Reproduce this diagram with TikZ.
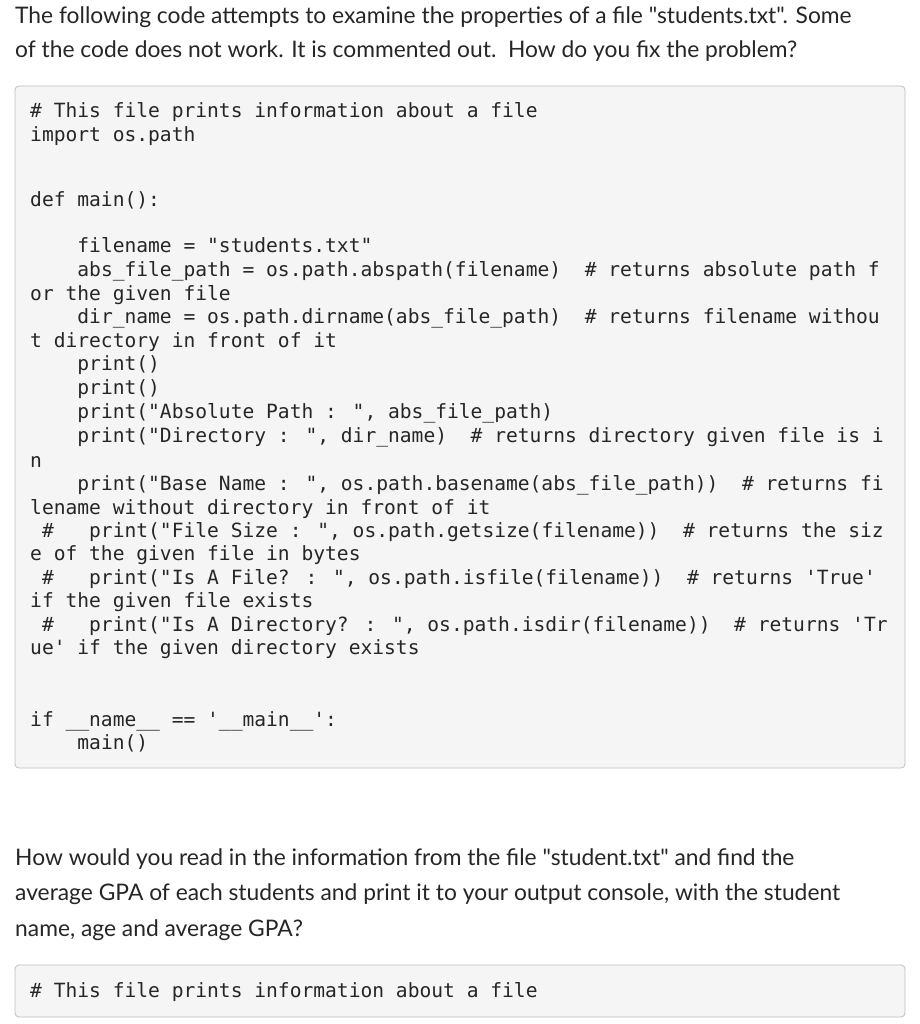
\documentclass[tikz,border=0pt]{standalone}
\usepackage{fontspec}
\newfontfamily\lato{Lato}
\newfontfamily\code{DejaVu Sans Mono}
\def\u{\char95 }
\begin{document}
\begin{tikzpicture}[x=1pt,y=-1pt,
  txt/.style={anchor=base west,inner sep=0pt,font=\lato\fontsize{22.8}{26}\selectfont,text=black!85},
  cl/.style={anchor=base west,inner sep=0pt,font=\code\fontsize{19.6}{23}\selectfont,text=black!85},
  box/.style={draw=black!25,fill=black!4,rounded corners=4pt,line width=0.8pt}]
\useasboundingbox[fill=white] (0,0) rectangle (919,1024);
\node[txt] (t1) at (15,24) {The following code attempts to examine the properties of a file "students.txt". Some};
\node[txt] (t2) at (15,58) {of the code does not work. It is commented out.\ \ How do you fix the problem?};
\draw[box] (15,86) rectangle (905,768);
\def\L#1#2#3{\node[cl] (#1) at (30,#2) {\obeyspaces#3};}
\L{c1}{118}{\# This file prints information about a file}
\L{c2}{142}{import os.path}
\L{c3}{207}{def main():}
\L{c4}{252}{\ \ \ \ filename = "students.txt"}
\L{c5}{276}{\ \ \ \ abs\u file\u path = os.path.abspath(filename)\ \ \# returns absolute path f}
\L{c6}{300}{or the given file}
\L{c7}{323}{\ \ \ \ dir\u name = os.path.dirname(abs\u file\u path)\ \ \# returns filename withou}
\L{c8}{347}{t directory in front of it}
\L{c9}{370}{\ \ \ \ print()}
\L{c10}{394}{\ \ \ \ print()}
\L{c11}{418}{\ \ \ \ print("Absolute Path : ", abs\u file\u path)}
\L{c12}{442}{\ \ \ \ print("Directory : ", dir\u name)\ \ \# returns directory given file is i}
\L{c13}{467}{n}
\L{c14}{490}{\ \ \ \ print("Base Name : ", os.path.basename(abs\u file\u path))\ \ \# returns fi}
\L{c15}{514}{lename without directory in front of it}
\L{c16}{537}{\ \#\ \ \ print("File Size : ", os.path.getsize(filename))\ \ \# returns the siz}
\L{c17}{560}{e of the given file in bytes}
\L{c18}{584}{\ \#\ \ \ print("Is A File? : ", os.path.isfile(filename))\ \ \# returns \char39True\char39}
\L{c19}{607}{if the given file exists}
\L{c20}{631}{\ \#\ \ \ print("Is A Directory? : ", os.path.isdir(filename))\ \ \# returns \char39Tr}
\L{c21}{654}{ue\char39\ if the given directory exists}
\L{c22}{726}{if \u\u name\u\u\ == \char39\u\u main\u\u\char39:}
\L{c23}{749}{\ \ \ \ main()}
\node[txt] (t3) at (15,865) {How would you read in the information from the file "student.txt" and find the};
\node[txt] (t4) at (15,900) {average GPA of each students and print it to your output console, with the student};
\node[txt] (t5) at (15,936) {name, age and average GPA?};
\draw[box] (15,965) rectangle (905,1017);
\L{d1}{997}{\# This file prints information about a file}
\end{tikzpicture}
\end{document}
